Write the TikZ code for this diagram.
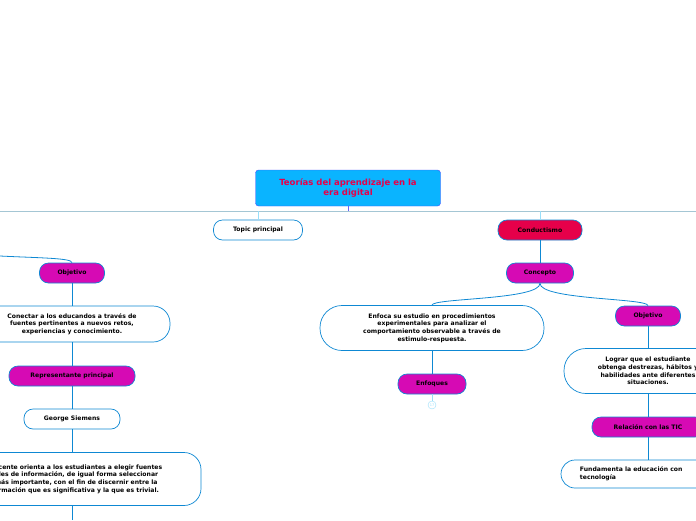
\documentclass[tikz,border=0pt]{standalone}
\usepackage{fontspec}
\setmainfont{DejaVu Sans}
\begin{document}
\begin{tikzpicture}[x=1pt,y=-1pt,
  every node/.style={font=\bfseries\fontsize{6.1}{7.6}\selectfont, align=center, inner sep=1pt},
  pill/.style={draw=cyan!70!blue, line width=0.7pt, rounded corners=9pt, minimum height=20pt},
  mag/.style={pill, fill=magentaC, text=black},
  wbox/.style={draw=cyan!70!blue, line width=0.7pt, rounded corners=17pt, fill=white},
  link/.style={draw=cyan!70!blue, line width=0.8pt}]
\definecolor{magentaC}{HTML}{D60AB4}
\definecolor{crim}{HTML}{E6004A}
\definecolor{mainb}{HTML}{0AB4FF}
\useasboundingbox (0,0) rectangle (696,520);
\clip (0,0) rectangle (696,520);
\draw[cyan!40!gray!60, line width=0.6pt] (0,211) -- (696,211);
\node[draw=blue!70, fill=mainb, rounded corners=3pt, minimum width=185pt, minimum height=36pt, text=crim, font=\bfseries\fontsize{8.5}{10}\selectfont] (main) at (348,188) {Teorías del aprendizaje en la\\era digital};
\coordinate (hub) at (348,211);
\draw[link, blue!60] (main.south) -- (hub);
\node[pill, fill=white, minimum width=89pt] (topic) at (258,230) {Topic principal};
\node[pill, fill=crim, minimum width=84pt] (cond) at (540,230) {Conductismo};
\draw[link, cyan!40] (258,211) -- (topic.north);
\draw[link, cyan!40] (540,211) -- (cond.north);
% left branch
\node[mag, minimum width=65pt] (obj1) at (72,273) {Objetivo};
\coordinate (lft) at (0,256);
\draw[link] (lft) .. controls (40,258) and (72,258) .. (obj1.north);
\node[wbox, minimum width=196pt, minimum height=36pt] (con) at (72,324) {Conectar a los educandos a través de\\fuentes pertinentes a nuevos retos,\\experiencias y conocimiento.};
\node[mag, minimum width=126pt] (rep) at (72,376) {Representante principal};
\node[pill, fill=white, minimum width=96pt] (geo) at (72,419) {George Siemens};
\node[wbox, minimum width=258pt, minimum height=53pt] (big) at (72,479) {El docente orienta a los estudiantes a elegir fuentes\\fiables de información, de igual forma seleccionar\\lo más importante, con el fin de discernir entre la\\información que es significativa y la que es trivial.};
\coordinate (bot) at (72,520);
\draw[link] (obj1) -- (con); \draw[link] (con) -- (rep); \draw[link] (rep) -- (geo); \draw[link] (geo) -- (big); \draw[link] (big) -- (bot);
% right branch
\node[mag, minimum width=67pt] (conc) at (540,273) {Concepto};
\draw[link] (cond) -- (conc);
\node[wbox, minimum width=224pt, minimum height=45pt, rounded corners=22pt] (enf) at (432,328) {Enfoca su estudio en procedimientos\\experimentales para analizar el\\comportamiento observable a través de\\estimulo-respuesta.};
\node[mag, minimum width=68pt] (enfq) at (432,384) {Enfoques};
\node[draw=cyan!40, circle, inner sep=0pt, minimum size=8pt, text=cyan!40, font=\fontsize{3.5}{4}\selectfont] (c17) at (432,405) {17};
\node[mag, minimum width=65pt] (obj2) at (648,316) {Objetivo};
\draw[link] (conc.south) .. controls (540,300) and (432,298) .. (enf.north);
\draw[link] (conc.south) .. controls (540,300) and (648,298) .. (obj2.north);
\draw[link] (enf) -- (enfq); \draw[link, cyan!40] (enfq) -- (c17);
\node[wbox, minimum width=168pt, minimum height=45pt, rounded corners=22pt] (log) at (648,371) {Lograr que el estudiante\\obtenga destrezas, hábitos y\\habilidades ante diferentes\\situaciones.};
\node[mag, minimum width=112pt] (rel) at (648,427) {Relación con las TIC};
\node[wbox, minimum width=174pt, minimum height=28pt, rounded corners=14pt, align=left] (fun) at (648,474) {Fundamenta la educación con\\tecnología\hspace*{100pt}};
\draw[link] (obj2) -- (log); \draw[link] (log) -- (rel); \draw[link] (rel) -- (fun);
\end{tikzpicture}
\end{document}
